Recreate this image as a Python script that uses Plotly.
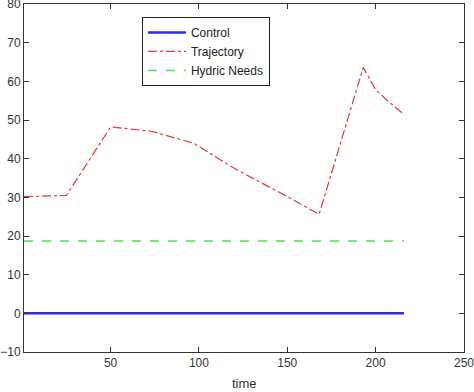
import plotly.graph_objects as go

# Data
t_flat = [1, 216]
control = [0, 0]
hydric = [18.7, 18.7]
traj_t = [1, 25, 50, 73, 97, 120, 150, 168, 193, 200, 208, 216]
traj_y = [30.2, 30.5, 48.2, 47.1, 44.0, 37.5, 30.2, 25.6, 63.6, 57.8, 54.5, 51.5]

x_ticks = [50, 100, 150, 200, 250]
y_ticks = [-10, 0, 10, 20, 30, 40, 50, 60, 70, 80]

fig = go.Figure()
fig.add_trace(go.Scatter(x=t_flat, y=control, mode="lines", name="Control",
                         line=dict(color="#2a2af0", width=2.5)))
fig.add_trace(go.Scatter(x=traj_t, y=traj_y, mode="lines", name="Trajectory",
                         line=dict(color="#e8323e", width=1.2, dash="dashdot")))
fig.add_trace(go.Scatter(x=t_flat, y=hydric, mode="lines", name="Hydric Needs",
                         line=dict(color="#4fe04f", width=1.5, dash="dash")))

font = "Liberation Sans, Arial"
axis_common = dict(showgrid=False, zeroline=False, showline=True, linecolor="#333333",
                   linewidth=1, mirror="ticks", ticks="inside", ticklen=5, automargin=False,
                   ticklabeloverflow="allow",
                   tickcolor="#333333", tickfont=dict(family=font, size=12, color="#333333"))

fig.update_layout(
    width=474, height=392,
    margin=dict(l=24, r=10, t=4, b=40),
    paper_bgcolor="white", plot_bgcolor="white",
    xaxis=dict(range=[1, 250.01], tickvals=x_ticks, **axis_common),
    yaxis=dict(range=[-10, 80.01], tickvals=y_ticks, **axis_common),
    legend=dict(x=0.268, y=0.963, xanchor="left", yanchor="top",
                bgcolor="white", bordercolor="#222222", borderwidth=1,
                font=dict(family=font, size=12, color="#222222"),
                tracegroupgap=0, itemwidth=38),
    showlegend=True,
    annotations=[dict(text="time", xref="paper", yref="paper", x=0.5, y=0,
                      yshift=-31, xanchor="center", yanchor="middle", showarrow=False,
                      font=dict(family=font, size=13, color="#333333"))],
)

fig.write_html("out.html", config={"displayModeBar": False},
               post_script="document.body.style.margin='0';document.body.style.overflow='hidden';")
